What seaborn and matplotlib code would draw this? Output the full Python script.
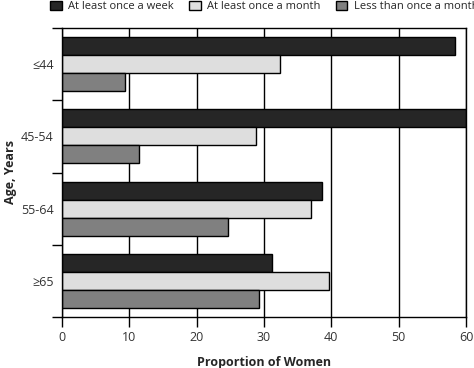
import pandas as pd
import seaborn as sns
import matplotlib.pyplot as plt
from matplotlib.ticker import FixedLocator

# Datos
edades = ['≤44', '45-54', '55-64', '≥65']
frecuencias = ['At least once a week', 'At least once a month', 'Less than once a month']
semana = [58.3, 60.0, 38.6, 31.2]
mes = [32.4, 28.8, 37.0, 39.7]
menos_mes = [9.4, 11.5, 24.6, 29.2]

filas = []
for i, e in enumerate(edades):
    filas.append((e, frecuencias[0], semana[i]))
    filas.append((e, frecuencias[1], mes[i]))
    filas.append((e, frecuencias[2], menos_mes[i]))
df = pd.DataFrame(filas, columns=['edad', 'frecuencia', 'proporcion'])

sns.set_style('white')
plt.rcParams['font.family'] = ['Open Sans', 'DejaVu Sans']

fig = plt.figure(figsize=(4.74, 3.68), dpi=100)
ax = fig.add_axes([62 / 474, 1 - 317 / 368, 404 / 474, 289 / 368])

colores = ['#262626', '#dedede', '#808080']
sns.barplot(data=df, y='edad', x='proporcion', hue='frecuencia', order=edades,
            hue_order=frecuencias, palette=colores, orient='h', width=0.75,
            edgecolor='black', linewidth=1, saturation=1, ax=ax, legend=False)

ax.set_xlim(0, 60)
ax.set_ylim(3.5, -0.5)
ax.set_xticks(range(0, 61, 10))
ax.xaxis.grid(True, color='black', linewidth=1)
ax.set_axisbelow(True)
ax.yaxis.set_minor_locator(FixedLocator([-0.5, 0.5, 1.5, 2.5, 3.5]))
ax.tick_params(axis='y', which='major', length=0, labelsize=9, colors='#333333', pad=6)
ax.tick_params(axis='y', which='minor', length=7, width=1, color='black', left=True)
ax.tick_params(axis='x', length=7, width=1, color='black', bottom=True,
               labelsize=9, labelcolor='#333333', pad=3)
for s in ax.spines.values():
    s.set_color('black')
    s.set_linewidth(1)
ax.set_xlabel('Proportion of Women', fontweight='bold', fontsize=9, labelpad=9)
ax.set_ylabel('Age, Years', fontweight='bold', fontsize=9, labelpad=3)

handles = [plt.Rectangle((0, 0), 1, 1, facecolor=c, edgecolor='black', linewidth=1)
           for c in colores]
fig.legend(handles, frecuencias, loc='upper left', bbox_to_anchor=(0.0946, 1.0136),
           ncol=3, frameon=False, fontsize=8, handlelength=1.0, handleheight=1.0,
           handletextpad=0.6, columnspacing=1.4, borderaxespad=0.1)

fig.savefig('out.png', dpi=100)
